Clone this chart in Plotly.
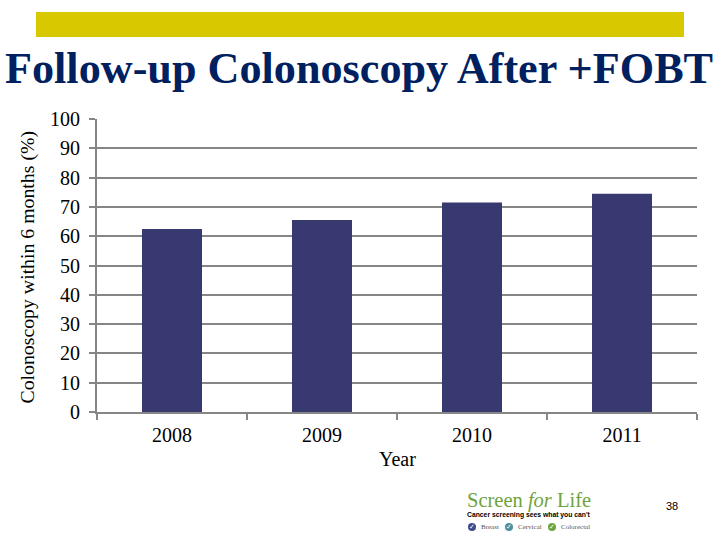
import plotly.graph_objects as go

years = ["2008", "2009", "2010", "2011"]
pct_followup = [62.5, 65.5, 71.5, 74.5]
y_ticks = [0, 10, 20, 30, 40, 50, 60, 70, 80, 90, 100]

W, H = 720, 540
L, R, T, B = 97, 697, 119, 412
GRAY = "#868686"
SERIF = "Liberation Serif"


def px(x):
    return (x - L) / (R - L)


def py(y):
    return (B - y) / (B - T)


def label(x, y, text, size, color="black", family=SERIF, angle=0, xanchor="center"):
    fig.add_annotation(x=px(x), y=py(y), xref="paper", yref="paper", text=text,
                       showarrow=False, textangle=angle, xanchor=xanchor, yanchor="middle",
                       font=dict(family=family, size=size, color=color))


fig = go.Figure(go.Bar(x=years, y=pct_followup, width=0.4, marker_color="#393972",
                       marker_line_width=0))

fig.update_layout(
    width=W, height=H, autosize=False, showlegend=False,
    margin=dict(l=L, r=W - R, t=T, b=H - B),
    paper_bgcolor="white", plot_bgcolor="white",
    font=dict(family=SERIF, color="black"),
    xaxis=dict(type="category", tickson="boundaries", ticks="outside", ticklen=6,
               tickwidth=2, tickcolor=GRAY, showline=True, linecolor=GRAY, linewidth=2,
               showgrid=False, tickfont=dict(size=20), ticklabelstandoff=4),
    yaxis=dict(range=[0, 100], tickvals=y_ticks, ticks="outside", ticklen=6, tickwidth=2,
               tickcolor=GRAY, showline=True, linecolor=GRAY, linewidth=2,
               gridcolor=GRAY, gridwidth=2, tickfont=dict(size=20), zeroline=False,
               ticklabelstandoff=5),
)

# yellow band above the title
fig.add_shape(type="rect", xref="paper", yref="paper", x0=px(36), x1=px(684),
              y0=py(37), y1=py(12), fillcolor="#D7C800", line_width=0)

label(358.5, 69, "<b>Follow-up Colonoscopy After +FOBT</b>", 44.2, color="#002060")
label(27, 267.5, "Colonoscopy within 6 months (%)", 19.8, angle=-90)
label(397, 459, "Year", 20)

# logo and page number
label(529, 500, "Screen <i>for</i> Life", 20.5, color="#6FA33C")
label(529, 515, "<b>Cancer screening sees what you can't</b>", 6.8, family="Liberation Sans")
for x, name, col in [(472, "Breast", "#3F4A8A"), (509, "Cervical", "#4F8FA0"), (552, "Colorectal", "#6FA33C")]:
    fig.add_shape(type="circle", xref="paper", yref="paper", x0=px(x - 4), x1=px(x + 4),
                  y0=py(531), y1=py(523), fillcolor=col, line_width=0)
    label(x, 527, "✓", 7, color="white", family="DejaVu Sans")
    label(x + 7, 527, name, 7, color="#555555", xanchor="left")
label(672, 506, "38", 11, family="Liberation Sans")

# drop the page's default 8px body margin so the figure fills the window
fig.write_html("out.html", config={"displayModeBar": False},
               post_script="document.body.style.margin = '0';")
